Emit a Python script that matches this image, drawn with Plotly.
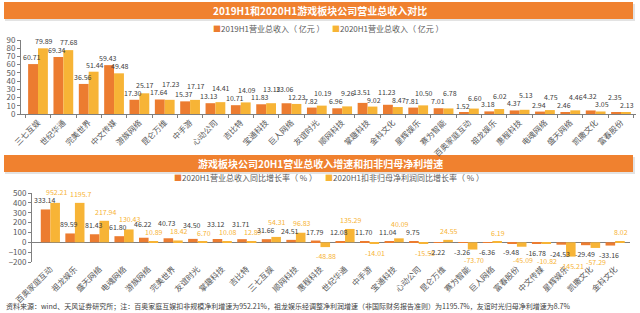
import plotly.graph_objects as go

# ---------------- data ----------------
cats_top = ["三七互娱", "世纪华通", "完美世界", "中文传媒", "游族网络", "昆仑万维", "中手游", "心动公司",
            "吉比特", "宝通科技", "巨人网络", "友谊时光", "顺网科技", "掌趣科技", "金科文化", "星辉娱乐",
            "赛为智能", "百奥家庭互动", "祖龙娱乐", "惠程科技", "电魂网络", "盛天网络", "凯撒文化", "富春股份"]
rev_2019 = [60.71, 69.34, 36.56, 59.43, 17.30, 17.64, 15.37, 13.13, 10.71, 11.83, 13.06, 7.82,
            6.96, 13.51, 11.23, 7.81, 7.01, 1.52, 3.18, 4.37, 2.94, 2.46, 4.32, 2.35]
rev_2020 = [79.89, 77.68, 51.44, 49.48, 25.17, 17.23, 17.17, 14.41, 14.09, 13.13, 12.23, 10.19,
            9.26, 9.02, 8.47, 10.50, 6.78, 6.60, 6.02, 5.13, 4.75, 4.46, 3.05, 2.13]

cats_bot = ["百奥家庭互动", "祖龙娱乐", "盛天网络", "电魂网络", "游族网络", "完美世界", "友谊时光", "掌趣科技",
            "吉比特", "三七互娱", "顺网科技", "惠程科技", "世纪华通", "中手游", "宝通科技", "心动公司",
            "昆仑万维", "赛为智能", "巨人网络", "富春股份", "中文传媒", "星辉娱乐", "凯撒文化", "金科文化"]
rev_growth = [333.14, 89.59, 81.43, 61.80, 46.22, 40.73, 34.50, 33.12, 31.71, 31.66, 24.51, 17.79,
              12.08, 11.70, 11.04, 9.75, -2.22, -3.26, -6.36, -9.48, -16.78, -24.53, -29.49, -33.16]
np_growth = [952.21, 1195.7, 217.94, 130.43, 10.89, 18.42, 6.70, 10.08, 12.89, 54.31, 96.83, -48.88,
             135.29, -14.01, 40.09, -15.58, 24.55, -73.70, 6.19, -45.09, -10.82, -145.21, -57.29, 8.02]
bar_cap = 400  # bars beyond this are drawn truncated in the source chart

ORANGE = "#EC7C30"
YELLOW = "#F7B436"
BANNER = "#F0812F"
TXT = "#404040"
AX = "#7F7F7F"
FONT = "Noto Sans CJK SC"

W, H = 640, 313


def px(x):
    return x / W


def py(y):
    return 1 - y / H


def fmt(v):
    return f"{v:.1f}" if abs(v) >= 1000 else f"{v:.2f}"


# plot geometry (pixels)
TOP_X = (21, 636)
TOP_Y = (114, 40)       # y of 0 and of 90
BOT_X = (32, 630)
BOT_Y = (262, 193)      # y of -200 and of 500
top_range = (0, 90)
bot_range = (-200, 500)
BARGAP = 0.22

top_ppu = (TOP_Y[0] - TOP_Y[1]) / (top_range[1] - top_range[0])
bot_ppu = (BOT_Y[0] - BOT_Y[1]) / (bot_range[1] - bot_range[0])
top_step = (TOP_X[1] - TOP_X[0]) / len(cats_top)
bot_step = (BOT_X[1] - BOT_X[0]) / len(cats_bot)

fig = go.Figure()

fig.add_trace(go.Bar(x=cats_top, y=rev_2019, marker=dict(color=ORANGE, line=dict(width=0)),
                     xaxis="x", yaxis="y", showlegend=False, hoverinfo="x+y"))
fig.add_trace(go.Bar(x=cats_top, y=rev_2020, marker=dict(color=YELLOW, line=dict(width=0)),
                     xaxis="x", yaxis="y", showlegend=False, hoverinfo="x+y"))
fig.add_trace(go.Bar(x=cats_bot, y=[min(v, bar_cap) for v in rev_growth],
                     marker=dict(color=ORANGE, line=dict(width=0)),
                     xaxis="x2", yaxis="y2", showlegend=False, hoverinfo="x+y"))
fig.add_trace(go.Bar(x=cats_bot, y=[min(v, bar_cap) for v in np_growth],
                     marker=dict(color=YELLOW, line=dict(width=0)),
                     xaxis="x2", yaxis="y2", showlegend=False, hoverinfo="x+y"))

top_dom = [py(TOP_Y[0]), py(TOP_Y[1])]
bot_dom = [py(BOT_Y[0]), py(BOT_Y[1])]
zero_pos = bot_dom[0] + (bot_dom[1] - bot_dom[0]) * (0 - bot_range[0]) / (bot_range[1] - bot_range[0])

tickfont = dict(size=8, color="#595959", family=FONT)

fig.update_layout(
    template="none",
    width=W, height=H, margin=dict(l=0, r=0, t=0, b=0, pad=0),
    paper_bgcolor="white", plot_bgcolor="white",
    font=dict(family=FONT, color=TXT),
    barmode="group", bargap=BARGAP, bargroupgap=0,
    xaxis=dict(domain=[px(TOP_X[0]), px(TOP_X[1])], anchor="y", type="category", tickangle=-45,
               tickfont=tickfont, showline=True, linecolor=AX, linewidth=1, automargin=False,
               ticks="outside", tickson="boundaries", ticklen=3, tickcolor=AX, showgrid=False),
    yaxis=dict(domain=top_dom, anchor="x", range=list(top_range), dtick=10, tickfont=tickfont,
               showline=True, linecolor=AX, ticks="outside", ticklen=3, tickcolor=AX, automargin=False,
               showgrid=False, zeroline=False),
    xaxis2=dict(domain=[px(BOT_X[0]), px(BOT_X[1])], anchor="y2", type="category", tickangle=-45,
                tickfont=tickfont, showline=False, ticks="", showgrid=False, automargin=False),
    yaxis2=dict(domain=bot_dom, anchor="x2", range=list(bot_range), dtick=100, tickfont=tickfont,
                showline=True, linecolor=AX, ticks="outside", ticklen=3, tickcolor=AX, automargin=False,
                showgrid=False, zeroline=True, zerolinecolor=AX, zerolinewidth=1),
    xaxis3=dict(overlaying="x2", anchor="free", position=zero_pos, type="linear",
                range=[-0.5, len(cats_bot) - 0.5],
                tickvals=[i - 0.5 for i in range(len(cats_bot) + 1)],
                ticks="outside", ticklen=3, tickcolor=AX, showticklabels=False, automargin=False,
                showline=False, showgrid=False, zeroline=False),
)

annotations = []
LBL = 7


def value_label(xref, yref, cat, yval, shift_x, shift_y, text, color):
    return dict(xref=xref, yref=yref, x=cat, y=yval, xshift=shift_x, yshift=shift_y,
                text=text, showarrow=False, xanchor="center", yanchor="middle",
                font=dict(size=LBL, color=color, family=FONT))


# top chart labels: 7px beyond bar end, keep labels of a pair apart vertically
off_top = top_step * (1 - BARGAP) / 4
for c, a, b in zip(cats_top, rev_2019, rev_2020):
    ya = a * top_ppu + 7
    yb = b * top_ppu + 7
    if abs(ya - yb) < 8:
        if b >= a * 0.95:
            yb = ya + 8
        else:
            ya = yb + 8
    annotations.append(value_label("x", "y", c, 0, -off_top - 1, ya, fmt(a), TXT))
    annotations.append(value_label("x", "y", c, 0, off_top + 1, yb, fmt(b), TXT))

# bottom chart labels
off_bot = bot_step * (1 - BARGAP) / 4
for c, a, b in zip(cats_bot, rev_growth, np_growth):
    ea = min(a, bar_cap) * bot_ppu
    eb = min(b, bar_cap) * bot_ppu
    ya = ea + (9 if a >= 0 else -9)
    yb = eb + (9 if b >= 0 else -9)
    if a >= 0 and b >= 0 and abs(ya - yb) < 8:
        if a >= b:
            ya = yb + 8
        else:
            yb = ya + 8
    elif a < 0 and b < 0 and abs(ya - yb) < 8:
        yb = ya - 8
    annotations.append(value_label("x2", "y2", c, 0, -off_bot - 1, ya, fmt(a), TXT))
    annotations.append(value_label("x2", "y2", c, 0, off_bot + 1, yb, fmt(b), YELLOW))

# banners
shapes = []
for (y0, y1, title) in [(2, 19, "2019H1和2020H1游戏板块公司营业总收入对比"),
                        (155, 172, "游戏板块公司20H1营业总收入增速和扣非归母净利增速")]:
    shapes.append(dict(type="rect", xref="paper", yref="paper", x0=px(5), x1=px(635),
                       y0=py(y1 + 2), y1=py(y0 + 2), fillcolor="#E3E3E3", line=dict(width=0),
                       layer="below"))
    shapes.append(dict(type="rect", xref="paper", yref="paper", x0=px(4), x1=px(633),
                       y0=py(y1), y1=py(y0), fillcolor=BANNER, line=dict(width=0), layer="below"))
    annotations.append(dict(xref="paper", yref="paper", x=px(320), y=py((y0 + y1) / 2),
                            text=f"<b>{title}</b>", showarrow=False, xanchor="center", yanchor="middle",
                            font=dict(size=10, color="white", family=FONT)))


def legend_item(x, y, color, label):
    return dict(xref="paper", yref="paper", x=px(x), y=py(y), xanchor="left", yanchor="middle",
                showarrow=False,
                text=f"<span style='color:{color}'>■</span>{label}",
                font=dict(size=8, color="#595959", family=FONT))


annotations.append(legend_item(211, 28, ORANGE, "2019H1营业总收入（ 亿元 ）"))
annotations.append(legend_item(330, 28, YELLOW, "2020H1营业总收入（ 亿元 ）"))
annotations.append(legend_item(172, 178, ORANGE, "2020H1营业总收入同比增长率（ % ）"))
annotations.append(legend_item(323, 178, YELLOW, "2020H1扣非归母净利润同比增长率（ % ）"))

annotations.append(dict(xref="paper", yref="paper", x=px(4), y=py(306), xanchor="left", yanchor="middle",
                        showarrow=False,
                        text="资料来源：wind、天风证券研究所；注：百奥家庭互娱扣非规模净利增速为952.21%，"
                             "祖龙娱乐经调整净利润增速（非国际财务报告准则）为1195.7%，友谊时光归母净利增速为8.7%",
                        font=dict(size=7, color=TXT, family=FONT)))

fig.update_layout(shapes=shapes, annotations=annotations)

fig.write_html("out.html")
